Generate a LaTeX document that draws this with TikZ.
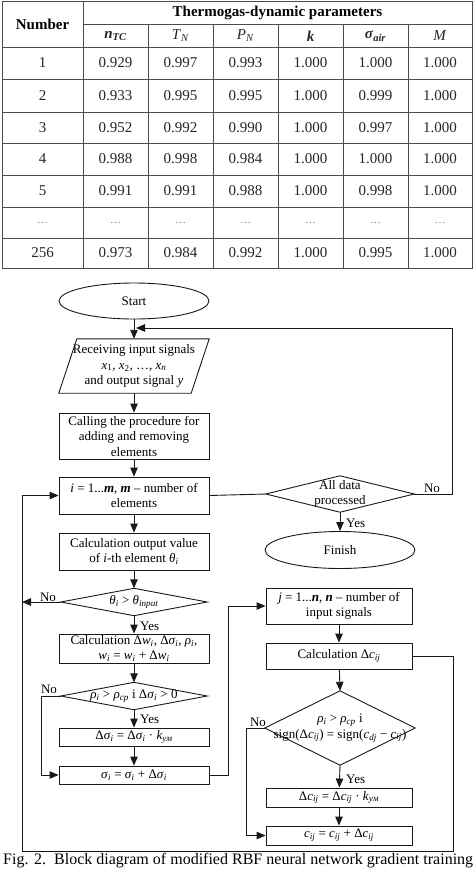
\documentclass[tikz,border=0pt]{standalone}
\usepackage{fontspec}
\setmainfont{Liberation Serif}
\usetikzlibrary{arrows.meta,shapes.geometric,calc}
\newcommand{\sbi}[1]{\textsubscript{\textit{#1}}}
\newcommand{\ii}[1]{\textit{#1}}
\begin{document}
\begin{tikzpicture}[x=1pt,y=-1pt,
  tl/.style={draw=black!70, line width=0.9pt},
  tc/.style={font=\fontsize{15}{17}\selectfont, inner sep=0pt, text=black!85},
  th/.style={font=\fontsize{15}{17}\selectfont\bfseries, inner sep=0pt},
  fl/.style={draw=black!90, line width=0.9pt},
  arr/.style={fl, -{Triangle[length=9pt,width=7.5pt]}},
  fc/.style={font=\fontsize{13}{15.5}\selectfont, align=center, inner sep=0pt},
  pbox/.style={fc, fl, rectangle, minimum width=150pt},
  rbox/.style={fc, fl, rectangle, minimum width=146pt},
  ghost/.style={fc, rectangle, draw=none},
  term/.style={fc, fl, ellipse, minimum width=150pt},
  lab/.style={font=\fontsize{13}{15}\selectfont, inner sep=0pt}
]
\useasboundingbox (0,0) rectangle (474,876);

% ---------------- table ----------------
\draw[tl] (2,1) rectangle (472,268);
\draw[tl] (83,1) -- (83,268);
\foreach \x in {148,213,278,343,408} \draw[tl] (\x,24) -- (\x,268);
\draw[tl] (83,24) -- (472,24);
\foreach \y in {47,79,112,143,175,207,238} \draw[tl] (2,\y) -- (472,\y);

\node[th] (hnum) at (42.5,24) {Number};
\node[th] (htherm) at (277.5,12.5) {Thermogas-dynamic parameters};
\node[tc] (h1) at (115.5,36) {\textbf{\textit{n}\textsubscript{\textit{TC}}}};
\node[tc] (h2) at (180.5,36) {\ii{T}\sbi{N}};
\node[tc] (h3) at (245.5,36) {\ii{P}\sbi{N}};
\node[tc] (h4) at (310.5,36) {\textbf{\textit{k}}};
\node[tc] (h5) at (375.5,36) {\textbf{\textit{σ}\textsubscript{\textit{air}}}};
\node[tc] (h6) at (440,36) {\ii{M}};

\foreach \r/\y/\n/\a/\b/\c/\d/\e/\f in {
  1/63/1/0.929/0.997/0.993/1.000/1.000/1.000,
  2/95.5/2/0.933/0.995/0.995/1.000/0.999/1.000,
  3/127.5/3/0.952/0.992/0.990/1.000/0.997/1.000,
  4/159/4/0.988/0.998/0.984/1.000/1.000/1.000,
  5/191/5/0.991/0.991/0.988/1.000/0.998/1.000,
  7/253/256/0.973/0.984/0.992/1.000/0.995/1.000}{
  \node[tc] (r\r c0) at (42.5,\y) {\n};
  \node[tc] (r\r c1) at (115.5,\y) {\a};
  \node[tc] (r\r c2) at (180.5,\y) {\b};
  \node[tc] (r\r c3) at (245.5,\y) {\c};
  \node[tc] (r\r c4) at (310.5,\y) {\d};
  \node[tc] (r\r c5) at (375.5,\y) {\e};
  \node[tc] (r\r c6) at (440,\y) {\f};
}
\foreach \x [count=\k] in {42.5,115.5,180.5,245.5,310.5,375.5,440}
  \node[tc, text=black!55, font=\fontsize{11}{13}\selectfont] (r6c\k) at (\x,223) {…};

% ---------------- flowchart ----------------
\node[term, minimum height=36pt] (start) at (134,301) {Start};
\node[ghost, minimum width=150pt, minimum height=54pt] (recv) at (134,366)
  {Receiving input signals\\ \ii{x}\textsubscript{1}, \ii{x}\textsubscript{2}, …, \ii{x}\sbi{n}\\ and output signal \ii{y}};
\draw[fl] ($(recv.north west)+(18,0)$) -- (recv.north east)
  -- ($(recv.south east)+(-18,0)$) -- (recv.south west) -- cycle;
\node[pbox, minimum height=46pt] (call) at (134,436)
  {Calling the procedure for\\ adding and removing\\ elements};
\node[pbox, minimum height=37pt] (loopi) at (134,495.5)
  {\ii{i} = 1...\textbf{\textit{m}}, \textbf{\textit{m}} – number of\\ elements};
\node[pbox, minimum height=37pt] (outv) at (134,551.5)
  {Calculation output value\\ of \ii{i}-th element \ii{θ}\sbi{i}};
\node[ghost, minimum width=146pt, minimum height=27pt] (d1) at (134,602)
  {\ii{θ}\sbi{i} > \ii{θ}\sbi{input}};
\draw[fl] (d1.west) -- (d1.north) -- (d1.east) -- (d1.south) -- cycle;
\node[pbox, minimum height=29pt] (calcw) at (134,648.5)
  {Calculation Δ\ii{w}\sbi{i}, Δ\ii{σ}\sbi{i}, \ii{ρ}\sbi{i},\\ \ii{w}\sbi{i} = \ii{w}\sbi{i} + Δ\ii{w}\sbi{i}};
\node[ghost, minimum width=146pt, minimum height=27pt] (d2) at (134,696)
  {\ii{ρ}\sbi{i} > \ii{ρ}\sbi{ср} i Δ\ii{σ}\sbi{i} > 0};
\draw[fl] (d2.west) -- (d2.north) -- (d2.east) -- (d2.south) -- cycle;
\node[pbox, minimum height=18pt] (ds) at (134,737)
  {Δ\ii{σ}\sbi{i} = Δ\ii{σ}\sbi{i} · \ii{k}\sbi{ум}};
\node[pbox, minimum height=18pt] (sg) at (134,775)
  {\ii{σ}\sbi{i} = \ii{σ}\sbi{i} + Δ\ii{σ}\sbi{i}};

\node[ghost, minimum width=148pt, minimum height=36pt] (dall) at (340,494)
  {All data\\ processed};
\draw[fl] (dall.west) -- (dall.north) -- (dall.east) -- (dall.south) -- cycle;
\node[term, minimum height=37pt] (fin) at (340,550) {Finish};
\node[rbox, minimum height=36pt] (loopj) at (339,606)
  {\ii{j} = 1...\textbf{\textit{n}}, \textbf{\textit{n}} – number of\\ input signals};
\node[rbox, minimum height=26pt] (calcc) at (339,656)
  {Calculation Δ\ii{c}\sbi{ij}};
\node[ghost, minimum width=150pt, minimum height=74pt] (d3) at (340,728)
  {\ii{ρ}\sbi{i} > \ii{ρ}\sbi{ср} i\\ sign(Δ\ii{c}\sbi{ij}) = sign(\ii{c}\sbi{dj} − \ii{c}\sbi{ij})};
\draw[fl] (d3.west) -- (d3.north) -- (d3.east) -- (d3.south) -- cycle;
\node[rbox, minimum height=19pt] (dc) at (339,797.5)
  {Δ\ii{c}\sbi{ij} = Δ\ii{c}\sbi{ij} · \ii{k}\sbi{ум}};
\node[rbox, minimum height=19pt] (cc) at (339,835.5)
  {\ii{c}\sbi{ij} = \ii{c}\sbi{ij} + Δ\ii{c}\sbi{ij}};

% helper coordinates
\coordinate (ent) at (136,328);
\coordinate (tr) at (452,494);
\coordinate (lft) at (22,602);
\coordinate (n2) at (41,696);
\coordinate (mx) at (228,775);
\coordinate (n3) at (246,728);
\coordinate (br) at (453,851);
\coordinate (bl) at (22,851);

% connectors
\draw[arr] (start) -- (recv);
\draw[arr] (recv) -- (call);
\draw[arr] (call) -- (loopi);
\draw[arr] (loopi) -- (outv);
\draw[arr] (outv) -- (d1.north);
\draw[arr] (d1.south) -- (calcw);
\draw[arr] (d1.west) -- (lft);
\draw[arr] (calcw) -- (d2.north);
\draw[arr] (d2.south) -- (ds);
\draw[arr] (ds) -- (sg);
\draw[arr] (d2.west) -- (n2) |- (sg.west);
\draw[arr] (sg.east) -- (mx) |- (loopj.west);
\draw[fl] (loopi.east) -- (dall.west);
\draw[arr] (dall.south) -- (fin);
\draw[arr] (dall.east) -- (tr) |- (ent);
\draw[arr] (loopj) -- (calcc);
\draw[arr] (calcc) -- (d3.north);
\draw[arr] (d3.south) -- (dc);
\draw[arr] (dc) -- (cc);
\draw[arr] (d3.west) -- (n3) |- (cc.west);
\draw[arr] (calcc.east) -| (br) -- (bl) |- (loopi.west);

% labels
\node[lab, anchor=west] (y1) at (140,626) {Yes};
\node[lab] (no1) at (48,597) {No};
\node[lab, anchor=west] (y2) at (140,719) {Yes};
\node[lab] (no2) at (49,689) {No};
\node[lab, anchor=west] (y3) at (346,523) {Yes};
\node[lab] (no3) at (432,488) {No};
\node[lab, anchor=west] (y4) at (346,779) {Yes};
\node[lab] (no4) at (258,722) {No};

\node[font=\fontsize{16}{18}\selectfont, inner sep=0pt, anchor=west] (cap) at (3,861)
  {\makebox[470pt][s]{Fig. 2.\ \ Block diagram of modified RBF neural network gradient training}};
\end{tikzpicture}
\end{document}
